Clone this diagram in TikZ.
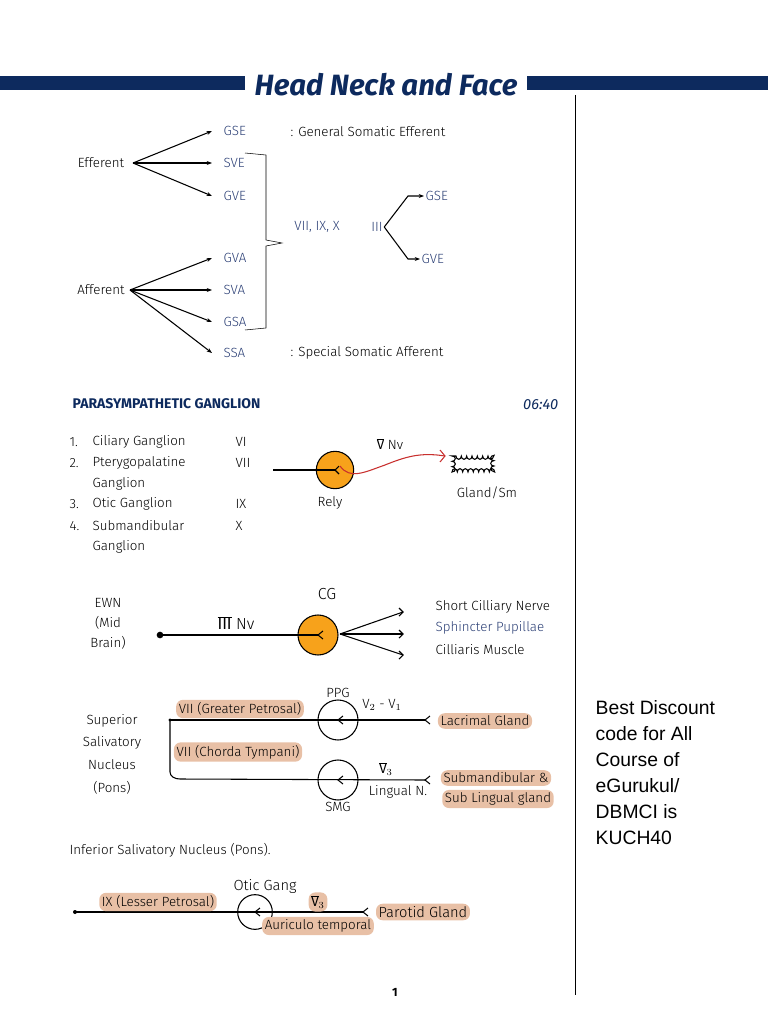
\documentclass[tikz,border=0pt]{standalone}
\usepackage{fontspec}
\setmainfont{Fira Sans}
\newfontfamily\hand{Fira Sans Light}
\newfontfamily\arialf{Liberation Sans}
\usetikzlibrary{arrows.meta,decorations.pathmorphing,calc}
\definecolor{navy}{HTML}{0D2A5E}
\definecolor{lblue}{HTML}{2B3F75}
\definecolor{peach}{HTML}{E8C0A6}
\definecolor{orng}{HTML}{F7A21B}
\definecolor{wred}{HTML}{C8302E}
\begin{document}
\begin{tikzpicture}[x=0.75pt,y=-0.75pt,
  txt/.style={font=\hand\fontsize{10}{12}\selectfont,inner sep=1pt},
  bl/.style={txt,text=lblue},
  hl/.style={txt,fill=peach,rounded corners=5pt,inner sep=2pt},
  arr/.style={-{Stealth[length=4pt]},thick},
  ln/.style={thick},
  gang/.style={circle,draw,thick,minimum size=30pt,inner sep=0pt},
  ogang/.style={gang,fill=orng,minimum size=28pt}]
\useasboundingbox (0,0) rectangle (768,1024);
% header
\fill[navy] (0,76) rectangle (245,90);
\fill[navy] (527,76) rectangle (768,90);
\node[font=\bfseries\itshape\fontsize{22}{24}\selectfont,text=navy] (title) at (386,85) {Head Neck and Face};
\draw[thin] (575,95) -- (575,995);
% efferent / afferent
\node[txt] (eff) at (101,163) {Efferent};
\node[txt] (aff) at (101,290) {Afferent};
\coordinate (e0) at (133,163);
\coordinate (a0) at (130,290);
\foreach \n/\y in {GSE/131,SVE/163,GVE/196}{
  \node[bl,anchor=west] (\n1) at (222,\y) {\n};
  \draw[arr] (e0) -- (212,\y);}
\foreach \n/\y in {GVA/258,SVA/290,GSA/322,SSA/353}{
  \node[bl,anchor=west] (\n1) at (222,\y) {\n};
  \draw[arr] (a0) -- (212,\y);}
\node[txt,anchor=west] (gsedef) at (289,132) {: General Somatic Efferent};
\node[txt,anchor=west] (ssadef) at (289,353) {: Special Somatic Afferent};
\draw[thin] (245,153) -- (266,155) -- (266,240) -- (282,243) -- (266,246) -- (266,328) -- (245,330);
\node[bl] (vii) at (317,227) {VII, IX, X};
\node[bl] (iii) at (377,227) {III};
\node[bl,anchor=west] (gse2) at (424,196) {GSE};
\node[bl,anchor=west] (gve2) at (420,259) {GVE};
\draw[arr] (iii.east) -- (408,196) -- (gse2.west);
\draw[arr] (iii.east) -- (408,259) -- (gve2.west);
% parasympathetic
\node[font=\bfseries\fontsize{10.5}{12}\selectfont,text=navy,anchor=west] (ph) at (68,404) {PARASYMPATHETIC GANGLION};
\node[font=\itshape\fontsize{11}{13}\selectfont,text=navy,anchor=east] (time) at (563,405) {06:40};
\foreach \k/\t/\y in {1./Ciliary Ganglion/442,2./Pterygopalatine/463,/Ganglion/484,3./Otic Ganglion/504,4./Submandibular/526,/Ganglion/547}{
  \node[txt,anchor=west] at (68,\y) {\k};
  \node[txt,anchor=west] at (91,\y) {\t};}
\foreach \r/\y in {VI/442,VII/463,IX/504,X/526}{\node[txt,anchor=west] at (234,\y) {\r};}
% diagram 1
\node[ogang] (rg) at (335,470) {};
\coordinate (r0) at (273,470);
\draw[ln] (r0) -- (rg.center);
\draw[ln] (rg.center) -- ++(4,-4) (rg.center) -- ++(4,4);
\draw[wred,thick] (340,466) .. controls (350,480) and (365,472) .. (385,465) .. controls (405,457) and (420,452) .. (445,456);
\draw[wred,thick] (440,450) -- (445,456) -- (440,462);
\draw[thick,decorate,decoration={bumps,segment length=8pt,amplitude=2.5pt}] (452,456) rectangle (494,472);
\node[txt] (vnv) at (390,444) {$\overline{\mathrm{V}}$ Nv};
\node[txt] (rely) at (330,503) {Rely};
\node[txt] (gland) at (487,493) {Gland/Sm};
% diagram 2
\node[txt,align=center] (ewn) at (108,624) {EWN\\[3pt](Mid\\[3pt]Brain)};
\node[ogang,minimum size=30pt] (cg) at (318,635) {};
\fill (160,635) circle (2.5pt);
\coordinate (c0) at (160,635);
\draw[ln] (c0) -- (cg.center);
\draw[ln] (cg.center) -- ++(5,-4) (cg.center) -- ++(5,4);
\node[txt,font=\hand\fontsize{12}{14}\selectfont] (cgl) at (327,594) {CG};
\node[txt,font=\hand\fontsize{12}{14}\selectfont] (iiinv) at (236,623) {$\overline{\mathrm{III}}$ Nv};
\foreach \y/\t/\c in {607/Short Cilliary Nerve/black,628/Sphincter Pupillae/lblue,650/Cilliaris Muscle/black}{
  \node[txt,anchor=west,text=\c] at (434,\y) {\t};}
\foreach \y in {612,634,655}{
  \draw[ln] (340,634) -- (403,\y);
  \draw[ln] (399,\y-4) -- (403,\y) -- (399,\y+4);}
% superior salivatory
\node[txt,align=center] (ssn) at (112,754) {Superior\\[5pt]Salivatory\\[5pt]Nucleus\\[5pt](Pons)};
\node[gang] (ppg) at (338,720) {};
\node[gang] (smg) at (338,780) {};
\coordinate (s0) at (170,720);
\coordinate (lg) at (425,720);
\coordinate (sg) at (425,780);
\fill (s0) circle (1.2pt);
\draw[ln] (s0) -- (lg);
\draw[ln] (s0) -- (170,772) to[out=-90,in=180] (180,779) -- (sg);
\foreach \p in {ppg,smg,lg,sg}{\draw[ln] ($(\p.center)+(5,-4)$) -- (\p.center) -- ($(\p.center)+(5,4)$);}
\node[txt,anchor=south] (ppgl) at (ppg.north) {PPG};
\node[txt,anchor=north] (smgl) at (smg.south) {SMG};
\node[txt] at (382,705) {V$_2$ - V$_1$};
\node[txt] at (386,769) {$\overline{\mathrm{V}}_3$};
\node[txt] at (398,792) {Lingual N.};
\node[hl] (gp) at (240,709) {VII (Greater Petrosal)};
\node[hl] (ct) at (238,752) {VII (Chorda Tympani)};
\node[hl] (lac) at (485,721) {Lacrimal Gland};
\node[hl] at (496,778) {Submandibular \&};
\node[hl] at (498,799) {Sub Lingual gland};
% inferior
\node[txt,anchor=west] (isn) at (68,850) {Inferior Salivatory Nucleus (Pons).};
\node[gang,minimum size=26pt] (otic) at (255,912) {};
\coordinate (o0) at (75,912);
\coordinate (o1) at (363,912);
\fill (o0) circle (1.5pt);
\draw[ln] (o0) -- (o1);
\foreach \p in {otic,o1}{\draw[ln] ($(\p.center)+(5,-4)$) -- (\p.center) -- ($(\p.center)+(5,4)$);}
\node[txt,font=\hand\fontsize{11}{13}\selectfont] at (265,886) {Otic Gang};
\node[hl] at (158,902) {IX (Lesser Petrosal)};
\node[hl] at (318,902) {$\overline{\mathrm{V}}_3$};
\node[hl] at (318,926) {Auriculo temporal};
\node[hl,font=\hand\fontsize{11}{13}\selectfont] (par) at (423,912) {Parotid Gland};
% right column
\node[font=\arialf\fontsize{14.5}{19.5}\selectfont,anchor=north west,align=left] (ad) at (591,696) {Best Discount\\code for All\\Course of\\eGurukul/\\DBMCI is\\KUCH40};
\node[font=\bfseries\fontsize{9}{11}\selectfont] (pg) at (395,992) {1};
\end{tikzpicture}
\end{document}
